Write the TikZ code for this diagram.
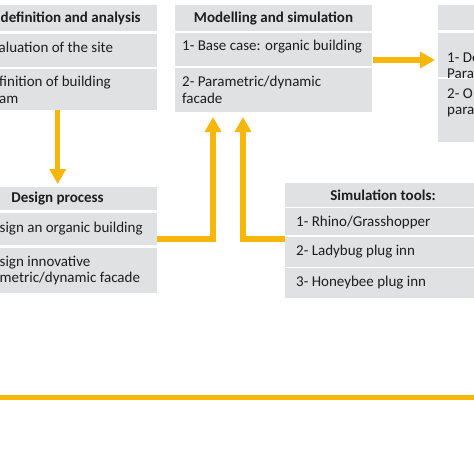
\documentclass[tikz,border=0pt]{standalone}
\usepackage{fontspec}
\setmainfont{Carlito}
\usetikzlibrary{arrows.meta}
\definecolor{cellgray}{HTML}{DFE1E2}
\definecolor{gold}{HTML}{F6B60A}
\definecolor{ink}{HTML}{1E1E1E}
\begin{document}
\begin{tikzpicture}[x=1pt,y=-1pt,
 cell/.style={fill=cellgray, draw=none, inner sep=0pt, anchor=north west},
 txt/.style={text=ink, font=\fontsize{15}{16.5}\selectfont, inner sep=0pt, align=left, anchor=west},
 hdr/.style={text=ink, font=\fontsize{15}{16.5}\selectfont\bfseries, inner sep=0pt},
 arr/.style={draw=gold, line width=5.5pt, -{Triangle[width=16pt,length=15pt]}},
 yline/.style={draw=gold, line width=5pt}]
\useasboundingbox (0,0) rectangle (474,474);
\clip (0,0) rectangle (474,474);
% Problem definition and analysis
\node[cell, minimum width=277pt, minimum height=26pt] (pd0) at (-120,5) {};
\node[cell, minimum width=277pt, minimum height=33pt] (pd1) at (-120,34) {};
\node[cell, minimum width=277pt, minimum height=41pt] (pd2) at (-120,69) {};
\node[hdr, anchor=west] (pd0t) at (0.5,18) {definition and analysis};
\node[txt] (pd1t) at (-1.5,47) {aluation of the site};
\node[txt] (pd2t) at (-1,90) {finition of building\\am};
% Modelling and simulation
\node[cell, minimum width=197pt, minimum height=26pt] (ms0) at (175,5) {};
\node[cell, minimum width=197pt, minimum height=33pt] (ms1) at (175,33) {};
\node[cell, minimum width=197pt, minimum height=44pt] (ms2) at (175,68) {};
\node[hdr] (ms0t) at (273.5,18) {Modelling and simulation};
\node[txt] (ms1t) at (182,47) {1- Base case: organic building};
\node[txt] (ms2t) at (182,90) {2- Parametric/dynamic\\facade};
% Right box
\node[cell, minimum width=50pt, minimum height=25pt] (rb0) at (438,5) {};
\node[cell, minimum width=50pt, minimum height=44pt] (rb1) at (438,33) {};
\node[cell, minimum width=50pt, minimum height=63pt] (rb2) at (438,79) {};
\node[txt] (rb1t) at (447,65.5) {1- De\\Para};
\node[txt] (rb2t) at (447,103) {2- O\\para};
% Design process
\node[cell, minimum width=199pt, minimum height=23pt] (dp0) at (-42,187) {};
\node[cell, minimum width=199pt, minimum height=32pt] (dp1) at (-42,213) {};
\node[cell, minimum width=199pt, minimum height=45pt] (dp2) at (-42,248) {};
\node[hdr] (dp0t) at (57.5,199) {Design process};
\node[txt] (dp1t) at (-0.5,229) {sign an organic building};
\node[txt] (dp2t) at (-0.5,270.5) {sign innovative\\metric/dynamic facade};
% Simulation tools
\node[cell, minimum width=200pt, minimum height=24pt] (st0) at (285,183) {};
\node[cell, minimum width=200pt, minimum height=27pt] (st1) at (285,208) {};
\node[cell, minimum width=200pt, minimum height=30pt] (st2) at (285,237) {};
\node[cell, minimum width=200pt, minimum height=30pt] (st3) at (285,268) {};
\node[hdr] (st0t) at (383,195) {Simulation tools:};
\node[txt] (st1t) at (296,222) {1- Rhino/Grasshopper};
\node[txt] (st2t) at (296,252) {2- Ladybug plug inn};
\node[txt] (st3t) at (296,283) {3- Honeybee plug inn};
% connectors
\coordinate (jy) at (0,239);
\coordinate (ra) at (0,60);
\coordinate (u1) at (213,117);
\coordinate (u2) at (243,117);
\coordinate (bl) at (-5,397);
\coordinate (br) at (480,397);
\draw[arr, shorten >=3pt] (dp0.north |- pd2.south) -- (dp0.north);
\draw[arr] (dp1.east |- jy) -| (u1);
\draw[arr] (st2.west |- jy) -| (u2);
\draw[arr, shorten >=3pt, shorten <=1pt] (ms1.east |- ra) -- (rb1.west |- ra);
\draw[yline] (bl) -- (br);
\end{tikzpicture}
\end{document}
